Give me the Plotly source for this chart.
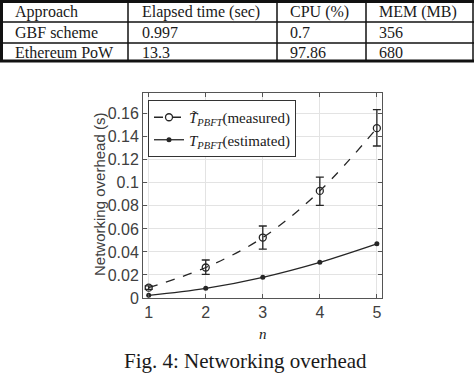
import plotly.graph_objects as go

# ---- data ----
n_vals = [1, 2, 3, 4, 5]
measured = [0.0090, 0.0265, 0.0525, 0.0930, 0.1475]
measured_err_plus = [0.0015, 0.0065, 0.0100, 0.0120, 0.0160]
measured_err_minus = [0.0015, 0.0060, 0.0100, 0.0125, 0.0155]
estimated = [0.0023, 0.0084, 0.0180, 0.0310, 0.0470]

y_tickvals = [0, 0.02, 0.04, 0.06, 0.08, 0.10, 0.12, 0.14, 0.16]
y_ticktext = ["0", "0.02", "0.04", "0.06", "0.08", "0.1", "0.12", "0.14", "0.16"]
x_tickvals = [1, 2, 3, 4, 5]

table_header = ["Approach", "Elapsed time (sec)", "CPU (%)", "MEM (MB)"]
table_row1 = ["GBF scheme", "0.997", "0.7", "356"]
table_row2 = ["Ethereum PoW", "13.3", "97.86", "680"]

caption = "Fig. 4: Networking overhead"

# ---- geometry helpers (pixel -> paper) ----
W, H = 474, 376
L, R, T, B = 143, 382, 93, 298
def px(x):
    return (x - L) / (R - L)
def py(y):
    return (B - y) / (B - T)

ink = "#262626"
fig = go.Figure()

fig.add_trace(go.Scatter(
    x=n_vals, y=measured, mode="lines+markers",
    name="<i>T\u0303</i><sub><i>PBFT</i></sub>(measured)",
    line=dict(color=ink, width=1.3, dash="dash", shape="spline"),
    marker=dict(symbol="circle-open", size=7, color=ink, line=dict(width=1.3)),
    error_y=dict(type="data", array=measured_err_plus, arrayminus=measured_err_minus,
                 color=ink, thickness=1.3, width=4),
))
fig.add_trace(go.Scatter(
    x=n_vals, y=estimated, mode="lines+markers",
    name="<i>T</i><sub><i>PBFT</i></sub>(estimated)",
    line=dict(color=ink, width=1.3, shape="spline"),
    marker=dict(symbol="circle", size=5, color=ink),
))

shapes = []
annotations = []

# table lines
line_c = "#111111"
rows_y = [1.5, 22, 43, 61]
for i, yy in enumerate(rows_y):
    shapes.append(dict(type="line", xref="paper", yref="paper",
                       x0=px(0), x1=px(474), y0=py(yy), y1=py(yy),
                       line=dict(color=line_c, width=3 if i in (0, 3) else 1.5)))
cols_x = [1.5, 128, 277, 366, 473]
for i, xx in enumerate(cols_x):
    shapes.append(dict(type="line", xref="paper", yref="paper",
                       x0=px(xx), x1=px(xx), y0=py(0), y1=py(61),
                       line=dict(color=line_c, width=3 if i == 0 else 1.5)))
text_x = [13, 140, 288, 377]
text_y = [11.5, 32.5, 52]
for ri, row in enumerate([table_header, table_row1, table_row2]):
    for ci, txt in enumerate(row):
        annotations.append(dict(text=txt, xref="paper", yref="paper",
                                x=px(text_x[ci]), y=py(text_y[ri]),
                                xanchor="left", yanchor="middle", showarrow=False,
                                font=dict(family="Liberation Serif", size=16, color="#1a1a1a")))

# axis titles and caption
annotations.append(dict(text="Networking overhead (s)", xref="paper", yref="paper",
                        x=px(99), y=py(195), textangle=-90, showarrow=False,
                        xanchor="center", yanchor="middle",
                        font=dict(family="Liberation Sans", size=15, color="#404040")))
annotations.append(dict(text="<i>n</i>", xref="paper", yref="paper",
                        x=px(263), y=py(334), showarrow=False,
                        xanchor="center", yanchor="middle",
                        font=dict(family="Liberation Serif", size=15, color="#1a1a1a")))
annotations.append(dict(text=caption, xref="paper", yref="paper",
                        x=px(245), y=py(361), showarrow=False,
                        xanchor="center", yanchor="middle",
                        font=dict(family="Liberation Serif", size=21, color="#1a1a1a")))

axis_common = dict(showline=True, linecolor="#555555", linewidth=1, mirror="ticks",
                   ticks="inside", ticklen=4, tickcolor="#555555",
                   showgrid=True, gridcolor="#e3e3e3", gridwidth=1, zeroline=False,
                   tickfont=dict(family="Liberation Sans", size=16, color="#404040"))

fig.update_layout(
    width=W, height=H,
    margin=dict(l=L, r=W - R, t=T, b=H - B),
    paper_bgcolor="white", plot_bgcolor="white",
    xaxis=dict(range=[0.9, 5.09], tickvals=x_tickvals, **axis_common),
    yaxis=dict(range=[0, 0.178], tickvals=y_tickvals, ticktext=y_ticktext, **axis_common),
    showlegend=True,
    legend=dict(x=px(148), y=py(100), xanchor="left", yanchor="top",
                bgcolor="white", bordercolor="#333333", borderwidth=1,
                font=dict(family="Liberation Serif", size=15, color="#1a1a1a"),
                itemwidth=30, tracegroupgap=0),
    shapes=shapes, annotations=annotations,
)

fig.write_html("out.html", config={"displayModeBar": False},
               post_script="document.body.style.margin='0';")
